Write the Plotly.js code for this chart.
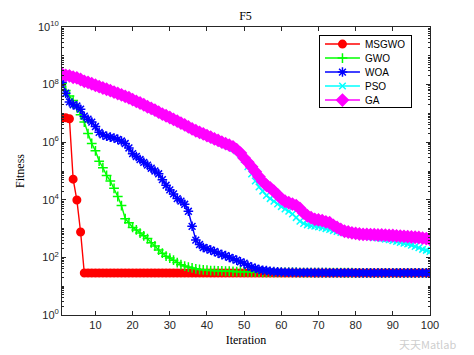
<!DOCTYPE html>
<html>
<head>
<meta charset="utf-8">
<script src="https://cdn.plot.ly/plotly-3.0.1.min.js"></script>
<style>html,body{margin:0;padding:0;background:#fff;}#chart{width:474px;height:355px;}</style>
</head>
<body>
<div id="chart"></div>
<script>
const iterations = [1,2,3,4,5,6,7,8,9,10,11,12,13,14,15,16,17,18,19,20,21,22,23,24,25,26,27,28,29,30,31,32,33,34,35,36,37,38,39,40,41,42,43,44,45,46,47,48,49,50,51,52,53,54,55,56,57,58,59,60,61,62,63,64,65,66,67,68,69,70,71,72,73,74,75,76,77,78,79,80,81,82,83,84,85,86,87,88,89,90,91,92,93,94,95,96,97,98,99,100];

const msgwo = [7e6,7e6,6.5e6,5.2e4,9.8e3,7.6e2,28.7,28.7,28.7,28.7,
28.7,28.7,28.7,28.7,28.7,28.7,28.7,28.7,28.7,28.7,
28.7,28.7,28.7,28.7,28.7,28.7,28.7,28.7,28.7,28.7,
28.7,28.7,28.7,28.7,28.7,28.7,28.7,28.7,28.7,28.7,
28.7,28.7,28.7,28.7,28.7,28.7,28.7,28.7,28.7,28.7,
28.7,28.7,28.7,28.7,28.7,28.7,28.7,28.7,28.7,28.7,
28.7,28.7,28.7,28.7,28.7,28.7,28.7,28.7,28.7,28.7,
28.7,28.7,28.7,28.7,28.7,28.7,28.7,28.7,28.7,28.7,
28.7,28.7,28.7,28.7,28.7,28.7,28.7,28.7,28.7,28.7,
28.7,28.7,28.7,28.7,28.7,28.7,28.7,28.7,28.7,28.7];

const gwo = [1.1e8,6.3e7,4.0e7,2.8e7,1.6e7,9e6,5e6,2e6,9e5,5e5,
2.2e5,1.3e5,7e4,4.5e4,2.5e4,1.3e4,6.3e3,2.2e3,1.6e3,1.1e3,
900,700,560,450,320,250,180,140,110,95,
80,66,56,50,46,43,40,38,37,36,
35,35,34,34,33,33,32.5,32,32,31.5,
31.5,31,31,31,30.5,30.5,30.5,30,30,30,
30,30,30,30,29.8,29.8,29.8,29.6,29.6,29.6,
29.5,29.5,29.5,29.4,29.4,29.4,29.3,29.3,29.3,29.2,
29.2,29.2,29.2,29.1,29.1,29.1,29.1,29,29,29,
29,29,29,29,29,29,29,29,29,29];

const woa = [1.2e8,5e7,2.5e7,2e7,1.8e7,1.4e7,8e6,6.3e6,5e6,3.5e6,
2.2e6,1.8e6,1.6e6,1.5e6,1.4e6,1.25e6,1.1e6,9e5,6.3e5,4e5,
3.2e5,2.5e5,2e5,1.6e5,1.25e5,1e5,8e4,5e4,3.2e4,2.2e4,
1.6e4,1.1e4,9e3,7e3,4e3,1.2e3,400,280,220,200,
180,160,140,125,115,100,90,80,70,63,
52,46,42,38,36,35,33,32,31.5,31,
30.5,30.5,30.3,30.2,30,30,29.9,29.8,29.7,29.6,
29.5,29.5,29.4,29.4,29.3,29.3,29.2,29.2,29.2,29.1,
29.1,29.1,29,29,29,29,29,29,29,29,
29,29,29,29,29,29,29,29,29,29];

const pso = [2.2e8,2.0e8,1.9e8,1.75e8,1.6e8,1.45e8,1.25e8,1.15e8,1.0e8,9.0e7,
8.1e7,7.2e7,6.5e7,5.9e7,5.2e7,4.6e7,4.2e7,3.7e7,3.3e7,2.8e7,
2.5e7,2.2e7,1.9e7,1.6e7,1.4e7,1.2e7,1.05e7,9.0e6,7.8e6,6.8e6,
5.9e6,5.1e6,4.4e6,3.8e6,3.2e6,2.7e6,2.35e6,2.05e6,1.8e6,1.6e6,
1.4e6,1.2e6,1.05e6,9.2e5,8.0e5,7.1e5,6.0e5,5.0e5,3.8e5,2.5e5,
1.4e5,7.9e4,4.5e4,2.8e4,2.0e4,1.4e4,1.1e4,8.9e3,7.1e3,5.8e3,
4.8e3,4.0e3,3.2e3,2.4e3,1.8e3,1.5e3,1.35e3,1.26e3,1.2e3,1.15e3,
1.07e3,1.0e3,930,850,790,740,710,680,650,620,
590,575,540,510,490,470,450,430,410,380,
355,330,310,290,265,240,215,190,175,160];

const ga = [2.3e8,2.1e8,2.0e8,1.8e8,1.7e8,1.5e8,1.3e8,1.2e8,1.07e8,9.5e7,
8.5e7,7.6e7,6.9e7,6.2e7,5.5e7,4.9e7,4.4e7,3.9e7,3.5e7,3.0e7,
2.6e7,2.3e7,2.0e7,1.7e7,1.5e7,1.3e7,1.1e7,9.5e6,8.3e6,7.2e6,
6.2e6,5.4e6,4.6e6,4.0e6,3.4e6,2.9e6,2.5e6,2.2e6,1.95e6,1.7e6,
1.5e6,1.3e6,1.15e6,1.0e6,8.9e5,7.9e5,6.9e5,5.5e5,4.2e5,2.8e5,
2.0e5,1.4e5,9.5e4,6.3e4,4.3e4,3.2e4,2.6e4,2.0e4,1.5e4,1.1e4,
8.9e3,7.9e3,7.1e3,6.3e3,5.0e3,3.5e3,2.8e3,2.4e3,2.1e3,2.0e3,
1.9e3,1.7e3,1.6e3,1.3e3,1.1e3,930,810,760,710,680,
650,630,630,620,615,600,600,590,575,575,
560,550,540,525,510,500,490,470,450,420];

const seriesNames = ['MSGWO','GWO','WOA','PSO','GA'];
const xTickVals = [10,20,30,40,50,60,70,80,90,100];
const yTickVals = [1,1e2,1e4,1e6,1e8,1e10];
const yTickText = ['10<sup>0</sup>','10<sup>2</sup>','10<sup>4</sup>','10<sup>6</sup>','10<sup>8</sup>','10<sup>10</sup>'];

const seriesData = [msgwo, gwo, woa, pso, ga];
const styles = [
  {color:'#ff0000', symbol:'circle', size:7.5, lw:1.4},
  {color:'#00ff00', symbol:'cross-thin-open', size:7, lw:1.4},
  {color:'#0000ff', symbol:'asterisk-open', size:8, lw:1.4},
  {color:'#00ffff', symbol:'x-thin-open', size:6.5, lw:1.4},
  {color:'#ff00ff', symbol:'diamond', size:9, lw:1.4}
];

const traces = seriesData.map((d,i)=>({
  x: iterations, y: d, type:'scatter', mode:'lines+markers', name: seriesNames[i],
  line:{color:styles[i].color, width:styles[i].lw},
  marker:{color:styles[i].color, symbol:styles[i].symbol, size:styles[i].size,
          line:{color:styles[i].color, width:1.5}}
}));

const axisColor = '#262626';
const layout = {
  width:474, height:355,
  margin:{l:62, r:44, t:27, b:40},
  paper_bgcolor:'#fff', plot_bgcolor:'#fff',
  showlegend:true,
  title:{text:'F5', x:0.518, xanchor:'center', y:0.955, yanchor:'middle',
         font:{family:'Liberation Serif, Times New Roman, serif', size:12, color:'#000'}},
  xaxis:{range:[1,100], tickmode:'array', tickvals:xTickVals, ticks:'inside', ticklen:4,
         tickcolor:axisColor, showline:true, linecolor:axisColor, linewidth:1, mirror:'allticks',
         showgrid:false, zeroline:false,
         tickfont:{family:'Liberation Sans, Arial, sans-serif', size:11, color:axisColor},
         title:{text:'Iteration', standoff:5, font:{family:'Liberation Serif, Times New Roman, serif', size:12, color:'#000'}}},
  yaxis:{type:'log', range:[0,10], tickmode:'array', tickvals:yTickVals, ticktext:yTickText,
         ticks:'inside', ticklen:4, tickcolor:axisColor, showline:true, linecolor:axisColor, linewidth:1,
         mirror:'allticks', showgrid:false, zeroline:false,
         minor:{ticks:'inside', ticklen:2, tickcolor:axisColor, dtick:'D1', showgrid:false},
         tickfont:{family:'Liberation Sans, Arial, sans-serif', size:11, color:axisColor},
         title:{text:'Fitness', standoff:10, font:{family:'Liberation Serif, Times New Roman, serif', size:12, color:'#000'}}},
  legend:{x:0.951, xanchor:'right', y:0.972, yanchor:'top', bgcolor:'#fff',
          bordercolor:'#000', borderwidth:1,
          font:{family:'Liberation Sans, Arial, sans-serif', size:10, color:'#000'},
          itemwidth:35, tracegroupgap:0},
  annotations:[{text:'天天Matlab', xref:'paper', yref:'paper', x:1.076, y:-0.1, xanchor:'right', yanchor:'middle',
    showarrow:false, font:{family:'Noto Sans CJK SC, sans-serif', size:11, color:'rgba(200,200,200,0.9)'}}]
};

const gd = document.getElementById('chart');
Plotly.newPlot(gd, traces, layout, {displayModeBar:false, staticPlot:true}).then(()=>{
  // compact the legend entries to MATLAB-like spacing
  const items = Array.from(gd.querySelectorAll('.legend .traces'));
  if (items.length < 2) return;
  const parse = el => {
    const m = /translate\(\s*([-\d.]+)[ ,]+([-\d.]+)\s*\)/.exec(el.getAttribute('transform') || '');
    return m ? [parseFloat(m[1]), parseFloat(m[2])] : [0,0];
  };
  const step = 14;
  const top = 9;
  items.forEach((el,i)=>{
    const p = parse(el);
    el.setAttribute('transform', 'translate(' + p[0] + ',' + (top + i*step) + ')');
  });
  const bg = gd.querySelector('.legend rect.bg');
  if (bg) bg.setAttribute('height', top + (items.length-1)*step + 7);
});
</script>
</body>
</html>
